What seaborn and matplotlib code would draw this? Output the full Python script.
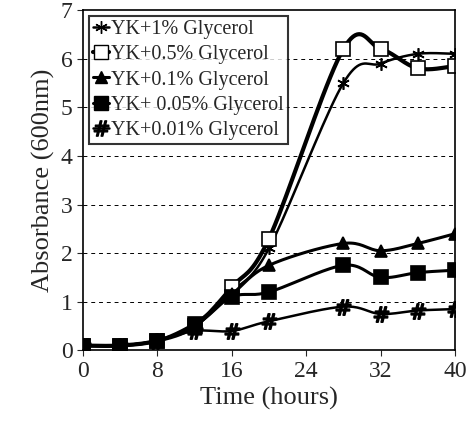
import numpy as np
import pandas as pd
import matplotlib
matplotlib.use("Agg")
import matplotlib.pyplot as plt
import seaborn as sns

hours = [0, 4, 8, 12, 16, 20, 28, 32, 36, 40]
g1 = [0.1, 0.1, 0.2, 0.5, 1.2, 2.1, 5.5, 5.9, 6.1, 6.1]
g05 = [0.1, 0.1, 0.2, 0.5, 1.3, 2.3, 6.2, 6.2, 5.8, 5.85]
g01 = [0.1, 0.1, 0.2, 0.5, 1.15, 1.75, 2.2, 2.05, 2.2, 2.4]
g005 = [0.1, 0.1, 0.2, 0.55, 1.1, 1.2, 1.75, 1.5, 1.6, 1.65]
g001 = [0.1, 0.1, 0.2, 0.4, 0.4, 0.6, 0.9, 0.75, 0.82, 0.85]
labels = ["YK+1% Glycerol", "YK+0.5% Glycerol", "YK+0.1% Glycerol",
          "YK+ 0.05% Glycerol", "YK+0.01% Glycerol"]

sns.set_style("white")
plt.rcParams['font.family'] = ['Liberation Serif', 'DejaVu Serif']

def catmull(x, y, n=20):
    x = np.asarray(x, float); y = np.asarray(y, float)
    P = np.column_stack([x, y])
    P = np.vstack([P[0], P, P[-1]])
    out = []
    for i in range(1, len(P) - 2):
        p0, p1, p2, p3 = P[i-1], P[i], P[i+1], P[i+2]
        t = np.linspace(0, 1, n, endpoint=False)[:, None]
        out.append(0.5 * ((2*p1) + (-p0+p2)*t + (2*p0-5*p1+4*p2-p3)*t**2 + (-p0+3*p1-3*p2+p3)*t**3))
    out.append(P[-2][None, :])
    return np.vstack(out)

fig = plt.figure(figsize=(4.74, 4.38), dpi=100)
ax = fig.add_axes([0.175, 0.2, 0.785, 0.777])

series = [g1, g05, g01, g005, g001]
markers = [(6, 2, 0), 's', '^', 's', '$\\#$']
faces = ['black', 'white', 'black', 'black', 'black']
sizes = [9, 10, 9, 10, 11]
widths = [1.8, 3.0, 2.2, 2.2, 1.8]
handles = []
for s, lab, m, fc, ms, lw in zip(series, labels, markers, faces, sizes, widths):
    sm = catmull(hours, s)
    df = pd.DataFrame({'x': sm[:, 0], 'y': sm[:, 1]})
    sns.lineplot(data=df, x='x', y='y', ax=ax, color='black', lw=lw, sort=False)
    ax.plot(hours, s, ls='none', marker=m, ms=ms, mfc=fc, mec='black', mew=1.2)
    handles.append(plt.Line2D([], [], color='black', lw=lw, marker=m, ms=ms, mfc=fc, mec='black'))

ax.set_xlim(0, 40)
ax.set_ylim(0, 7)
ax.set_xticks(range(0, 41, 8))
ax.set_yticks(range(0, 8))
for yv in range(1, 7):
    ax.axhline(yv, color='black', ls=(0, (4, 4)), lw=0.7, zorder=0)
ax.tick_params(labelsize=17, direction='out', length=4, bottom=True, left=True)
ax.set_xlabel('Time (hours)', fontsize=19)
ax.set_ylabel('Absorbance (600nm)', fontsize=19)
for sp in ax.spines.values():
    sp.set_color('black'); sp.set_linewidth(1.2)
leg = ax.legend(handles, labels, loc='upper left', fontsize=14.5, handlelength=0.8,
                handletextpad=0.1, borderpad=0.2, labelspacing=0.3, fancybox=False,
                frameon=True, borderaxespad=0.3)
leg.get_frame().set_edgecolor('black'); leg.get_frame().set_linewidth(1.5)
fig.savefig('out.png', dpi=100)
